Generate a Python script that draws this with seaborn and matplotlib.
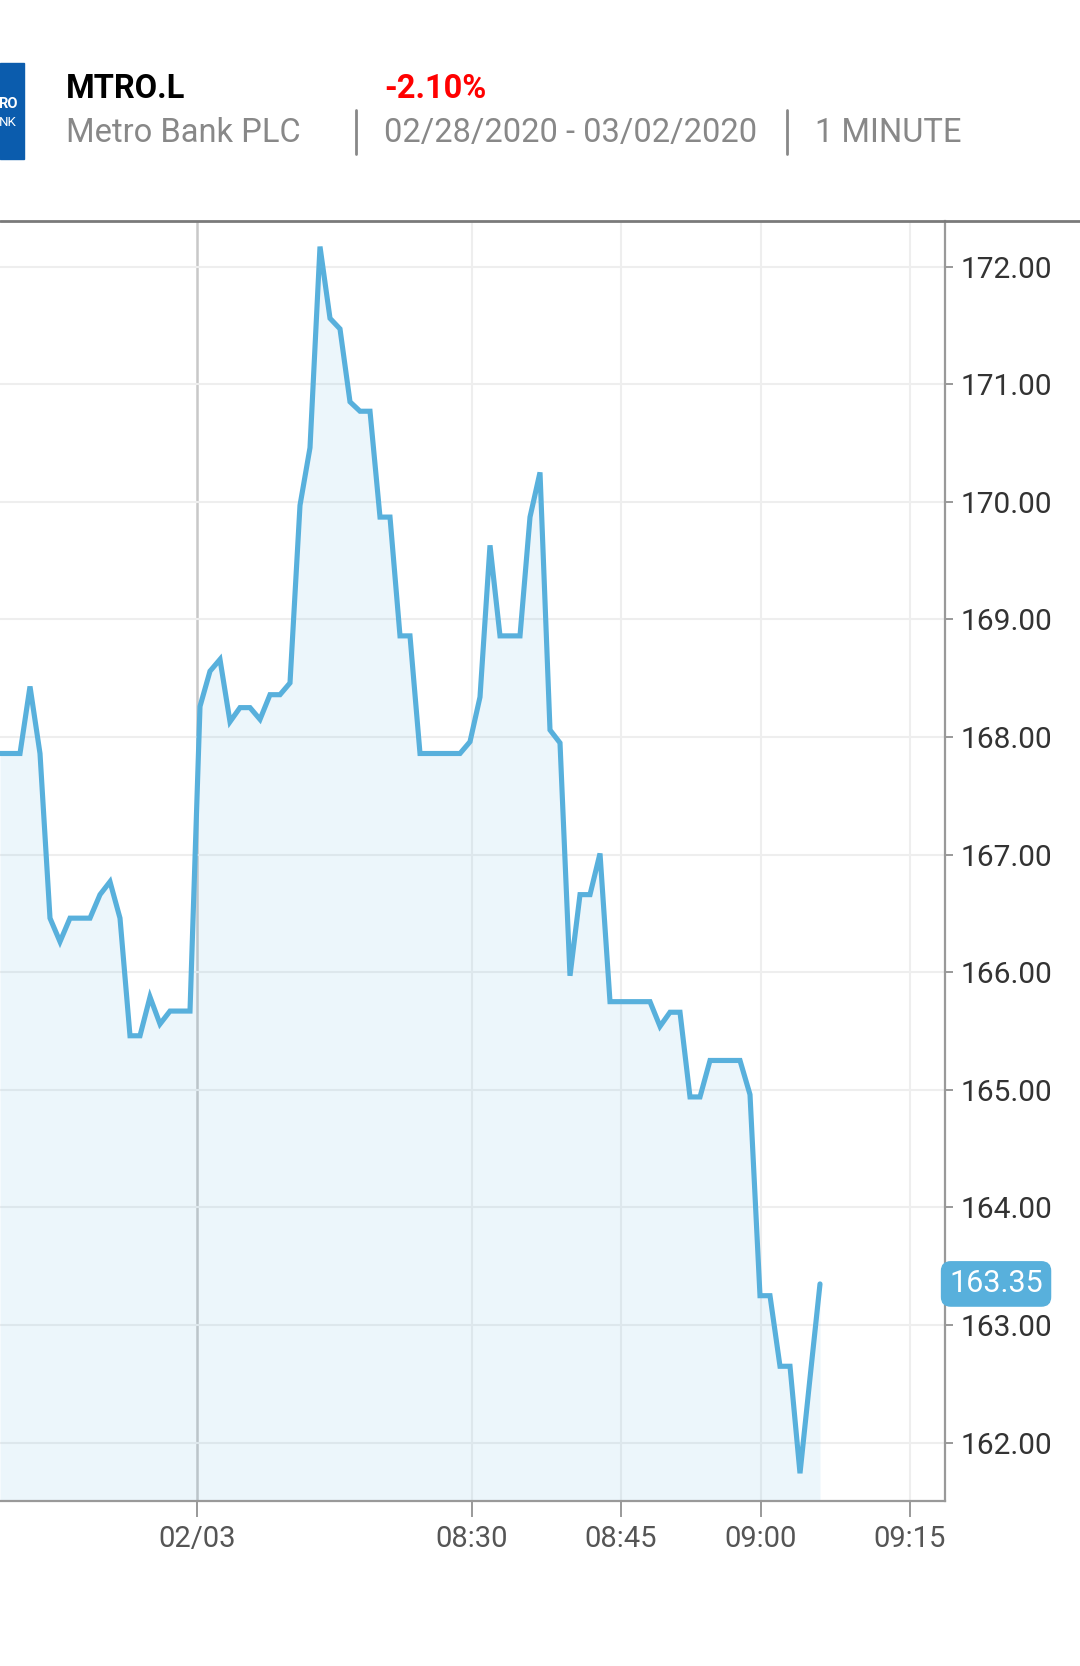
import matplotlib
matplotlib.use("Agg")
import numpy as np
import pandas as pd
import matplotlib.pyplot as plt
import matplotlib.transforms as mtransforms
from matplotlib.lines import Line2D
from matplotlib.patches import Rectangle
import seaborn as sns

# ---------------- data ----------------
ticker = "MTRO.L"
company = "Metro Bank PLC"
change_pct = "-2.10%"
date_range = "02/28/2020 - 03/02/2020"
interval = "1 MINUTE"
logo_lines = ["RO", "NK"]
last_price = 163.35

point_index = list(range(83))
prices = [
    167.86, 167.86, 167.86, 168.43, 167.86, 166.46, 166.26, 166.46, 166.46, 166.46,
    166.66, 166.77, 166.46, 165.46, 165.46, 165.79, 165.56, 165.67, 165.67, 165.67,
    168.26, 168.56, 168.66, 168.13, 168.25, 168.25, 168.15, 168.36, 168.36, 168.46,
    169.97, 170.46, 172.17, 171.56, 171.47, 170.85, 170.77, 170.77, 169.87, 169.87,
    168.86, 168.86, 167.86, 167.86, 167.86, 167.86, 167.86, 167.96, 168.34, 169.63,
    168.86, 168.86, 168.86, 169.87, 170.25, 168.06, 167.95, 165.97, 166.66, 166.66,
    167.01, 165.75, 165.75, 165.75, 165.75, 165.75, 165.54, 165.66, 165.66, 164.94,
    164.94, 165.25, 165.25, 165.25, 165.25, 164.96, 163.25, 163.25, 162.65, 162.65,
    161.74, 162.55, 163.35,
]
x_tick_positions = [19.7, 47.2, 62.05, 76.05, 90.95]
x_tick_labels = ["02/03", "08:30", "08:45", "09:00", "09:15"]
y_ticks = [162, 163, 164, 165, 166, 167, 168, 169, 170, 171, 172]
x_limits = (0, 94.5)
y_limits = (161.507, 172.39)

# ---------------- style ----------------
LINE = "#58b0dc"
W, H = 1080, 1666

sns.set_theme(style="white")
plt.rcParams["font.family"] = ["Roboto", "DejaVu Sans"]

fig = plt.figure(figsize=(W / 100, H / 100), dpi=100)
fig.patch.set_facecolor("white")


def fx(px):
    return px / W


def fy(py):
    return 1 - py / H


ax_top, ax_bottom, ax_right = 220.7, 1500.7, 945
ax = fig.add_axes([0, fy(ax_bottom), fx(ax_right), (ax_bottom - ax_top) / H])

df = pd.DataFrame({"idx": point_index, "price": prices})
ax.fill_between(df["idx"], df["price"], y_limits[0], color=LINE, alpha=0.11,
                linewidth=0, zorder=1)
sns.lineplot(data=df, x="idx", y="price", ax=ax, color=LINE, linewidth=3.7,
             solid_joinstyle="miter", zorder=3)

ax.set_xlim(*x_limits)
ax.set_ylim(*y_limits)
ax.set_xlabel("")
ax.set_ylabel("")

ax.set_xticks(x_tick_positions)
ax.set_xticklabels(x_tick_labels)
ax.set_yticks(y_ticks)
ax.set_yticklabels([f"{v:.2f}" for v in y_ticks])
ax.yaxis.tick_right()

ax.tick_params(axis="y", which="both", left=False, right=True, direction="out",
               length=6, width=1.4, color="#999999", pad=5, labelsize=21.5,
               labelcolor="#333333")
ax.tick_params(axis="x", which="both", bottom=True, direction="out",
               length=11.5, width=1.4, color="#999999", pad=6, labelsize=21,
               labelcolor="#555555")

ax.set_axisbelow(True)
ax.grid(True, color="#eeeeee", linewidth=1.5)
ax.get_xgridlines()[0].set_color("#c8c8c8")
ax.get_xgridlines()[0].set_linewidth(1.8)

for s in ["top", "left"]:
    ax.spines[s].set_visible(False)
for s in ["right", "bottom"]:
    ax.spines[s].set_color("#999999")
    ax.spines[s].set_linewidth(1.6)

# top full-width rule
fig.add_artist(Line2D([0, 1], [fy(ax_top), fy(ax_top)], transform=fig.transFigure,
                      color="#7a7a7a", linewidth=2))

# last price label
trans = mtransforms.blended_transform_factory(ax.transAxes, ax.transData)
ax.annotate(f"{last_price:.2f}", xy=(1.0, last_price), xycoords=trans,
            xytext=(3, 0), textcoords="offset points", ha="left", va="center",
            fontsize=22, color="white", annotation_clip=False, zorder=10,
            bbox=dict(boxstyle="round,pad=0.25,rounding_size=0.3", fc=LINE,
                      ec=LINE))

# ---------------- header ----------------
fig.add_artist(Rectangle((0, fy(158.7)), fx(24), 96 / H, transform=fig.transFigure,
                         color="#0b5cad", zorder=1))
fig.text(fx(18), fy(108.3), logo_lines[0], color="white", fontsize=10.5,
         fontweight="bold", ha="right", va="baseline")
fig.text(fx(17), fy(126), logo_lines[1], color="white", fontsize=9.5,
         ha="right", va="baseline")

fig.text(fx(66), fy(97.5), ticker, color="black", fontsize=23.5, fontweight="bold",
         ha="left", va="baseline")
fig.text(fx(384), fy(97.5), change_pct, color="#ff0000", fontsize=23.5,
         fontweight="bold", ha="left", va="baseline")

fig.text(fx(66), fy(141.7), company, color="#888888", fontsize=23.5,
         ha="left", va="baseline")
fig.text(fx(384), fy(141.7), date_range, color="#888888", fontsize=23.5,
         ha="left", va="baseline")
fig.text(fx(815), fy(141.7), interval, color="#888888", fontsize=23.5,
         ha="left", va="baseline")
for sx in (356, 787):
    fig.add_artist(Line2D([fx(sx), fx(sx)], [fy(110), fy(154)],
                          transform=fig.transFigure, color="#888888", linewidth=2))

fig.savefig("out.png", dpi=100, facecolor="white")
